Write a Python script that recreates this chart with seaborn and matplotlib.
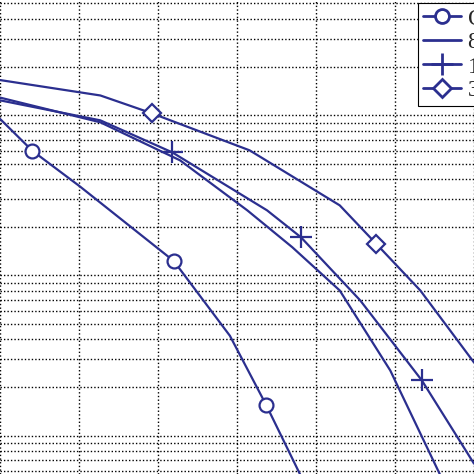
import numpy as np
import matplotlib
matplotlib.use("Agg")
import matplotlib.pyplot as plt
from matplotlib.lines import Line2D
import seaborn as sns

# data
x_qpsk = [0, 0.41, 1.01, 2.2, 2.91, 3.37, 3.80]
y_qpsk = [0.095, 0.060, 0.036, 0.0123, 0.0042, 0.00155, 0.00057]
x_8 = [0, 1.27, 2.28, 3.13, 3.70, 4.30, 4.94, 5.57]
y_8 = [0.129, 0.0904, 0.0523, 0.0255, 0.0150, 0.00806, 0.00255, 0.00057]
x_16 = [0, 1.27, 2.18, 3.38, 3.81, 4.56, 5.34, 6.0]
y_16 = [0.124, 0.093, 0.0587, 0.0255, 0.0173, 0.00698, 0.00221, 0.000668]
x_32 = [0, 1.27, 1.92, 3.16, 4.30, 4.76, 5.32, 6.0]
y_32 = [0.166, 0.133, 0.103, 0.0604, 0.0274, 0.0158, 0.00806, 0.00286]
labels = ["QPSK", "8-PSK", "16-QAM", "32-QAM"]

sns.set_style("white")
plt.rcParams["font.family"] = ["Liberation Serif", "DejaVu Serif"]
col = "#2b2f8f"

fig = plt.figure(figsize=(4.74, 4.74), dpi=100)
ax = fig.add_axes([0, 0, 1, 1])
ax.set_yscale("log")

series = [
    (x_qpsk, y_qpsk, "o", 10, [1, 3, 5]),
    (x_8, y_8, None, 0, []),
    (x_16, y_16, "+", 16, [2, 4, 6]),
    (x_32, y_32, "D", 9, [2, 5]),
]
handles = []
for (xs, ys, mk, ms, idx), lab in zip(series, labels):
    sns.lineplot(x=xs, y=ys, ax=ax, color=col, lw=1.6, sort=False,
                 estimator=None, legend=False)
    if mk:
        ax.plot([xs[i] for i in idx], [ys[i] for i in idx], ls="none",
                marker=mk, ms=ms, mfc="white" if mk != "+" else col,
                mec=col, mew=1.6, zorder=3)
    handles.append(Line2D([], [], color=col, lw=2, marker=mk, ms=ms,
                          mfc="white", mec=col, mew=2))

ax.set_xlim(0, 6)
ax.set_ylim(10 ** -3.24, 10 ** -0.28)
ax.set_xticks(np.arange(0, 7, 1))
ax.grid(True, which="major", axis="x", ls=":", color="k", lw=1)
ax.grid(True, which="both", axis="y", ls=(0, (1, 1.5)), color="k", lw=1)
ax.tick_params(direction="in", length=6, labelbottom=False, labelleft=False)
for s in ax.spines.values():
    s.set_visible(False)

leg = ax.legend(handles, labels, loc="upper left",
                bbox_to_anchor=(418 / 474, 1 - 3 / 474),
                frameon=True, fancybox=False, fontsize=17, handlelength=1.6,
                borderaxespad=0, handletextpad=0.3, labelspacing=0.1,
                borderpad=0.2, framealpha=1)
leg.get_frame().set_edgecolor("k")
leg.get_frame().set_linewidth(0.8)

fig.savefig("out.png", dpi=100)
